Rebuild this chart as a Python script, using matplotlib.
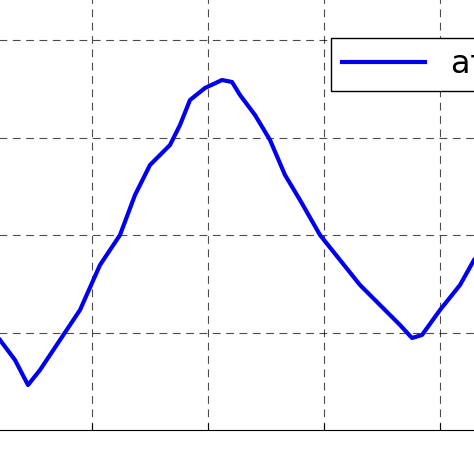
import numpy as np
import matplotlib.pyplot as plt

# curve (x in tick units, y in grid units)
px = np.array([0, 15, 28, 40, 60, 80, 100, 120, 135, 150, 170, 180, 190, 205, 222,
               232, 240, 255, 270, 285, 300, 320, 340, 360, 380, 400, 412, 422,
               440, 460, 474])
py = np.array([340, 360, 385, 370, 340, 310, 265, 235, 195, 165, 145, 125, 100, 88, 80,
               82, 95, 115, 140, 175, 200, 235, 260, 285, 305, 325, 338, 335,
               310, 285, 260])
xs = 1 + (px - 92) / 116.0
ys = (430 - py) / 97.5
label = 'after filtering'

fig = plt.figure(figsize=(4.74, 4.74), dpi=100)
# axes box larger than the figure: only a crop is visible
x0, x1 = 0.0, 4.6
y0, y1 = 0.0, 4.6
ax = fig.add_axes([(92 - 116 + 116 * x0) / 474.0, (474 - 430) / 474.0,
                   116 * (x1 - x0) / 474.0, 97.5 * (y1 - y0) / 474.0])
ax.plot(xs, ys, color='#0000ee', lw=3, label=label)
ax.set_xlim(x0, x1)
ax.set_ylim(y0, y1)
ax.set_xticks([1, 2, 3, 4])
ax.set_yticks([1, 2, 3, 4])
ax.tick_params(labelbottom=False, labelleft=False, direction='in', length=5)
ax.grid(True, color='black', ls=(0, (7, 5)), lw=0.8, alpha=0.7)
ax.legend(loc='upper left', bbox_to_anchor=(315 / 474, 1 - 22 / 474),
          bbox_transform=fig.transFigure, fontsize=23, fancybox=False,
          edgecolor='black', handlelength=2.6, borderpad=0.35, framealpha=1)
fig.savefig('out.png', dpi=100)
